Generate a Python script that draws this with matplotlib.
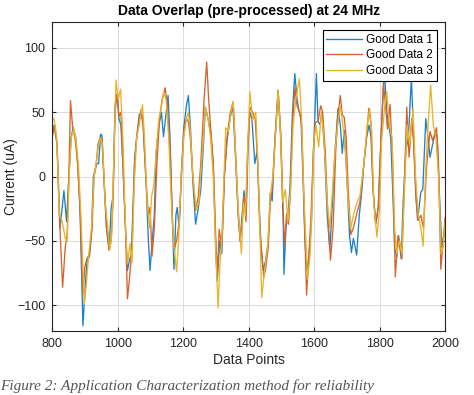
import matplotlib
matplotlib.use('Agg')
import matplotlib.pyplot as plt

# Good Data 1
x1 = [800, 806, 815, 824, 836, 844, 850, 858, 864, 872, 878, 885, 894, 900, 906, 914, 920, 926,
      936, 942, 948, 952, 958, 966, 974, 980, 986, 992, 996, 1000, 1004, 1010, 1016, 1024, 1030,
      1036, 1042, 1052, 1058, 1066, 1072, 1078, 1086, 1094, 1099, 1104, 1112, 1118, 1126, 1134,
      1140, 1146, 1154, 1160, 1166, 1172, 1178, 1182, 1188, 1194, 1202, 1210, 1216, 1222, 1230,
      1238, 1246, 1254, 1262, 1268, 1276, 1284, 1292, 1300, 1304, 1312, 1318, 1326, 1334, 1344,
      1352, 1360, 1368, 1374, 1380, 1386, 1392, 1398, 1404, 1410, 1419, 1426, 1432, 1438, 1445,
      1452, 1460, 1466, 1472, 1480, 1490, 1498, 1506, 1508, 1514, 1520, 1526, 1534, 1541, 1548,
      1554, 1560, 1566, 1572, 1578, 1585, 1592, 1598, 1602, 1607, 1612, 1618, 1624, 1632, 1640,
      1648, 1656, 1664, 1673, 1680, 1686, 1692, 1700, 1708, 1714, 1720, 1730, 1738, 1746, 1752,
      1760, 1768, 1774, 1780, 1788, 1796, 1804, 1814, 1822, 1828, 1834, 1840, 1846, 1852, 1858,
      1866, 1872, 1880, 1888, 1897, 1904, 1910, 1916, 1926, 1932, 1941, 1948, 1954, 1962, 1970,
      1976, 1982, 1990, 2000]
y1 = [33, 40, 25, -40, -11, -35, -5, 30, 38, 30, 10, -25, -116, -90, -66, -62, -45, 0,
      10, 10, 33, 32, 0, -40, -57, -25, -15, 55, 64, 60, 45, 40, 10, -40, -73,
      -65, -60, 15, 30, 48, 50, 40, 0, -50, -73, -55, -30, 20, 40, 50,
      31, 45, 63, 30, -20, -72, -30, -24, -40, 0, 38, 55, 63, 40, -5,
      -37, -25, -10, 25, 54, 45, 35, 10, -60, -81, -50, -60, 0, 28, 46,
      55, 15, -30, -50, -30, -11, -30, 28, 50, 45, 10, 20, -20, -55, -73,
      -65, -50, -13, -19, 28, 67, 30, -40, -76, -40, -30, -10, 50, 80, 60,
      51, 45, 0, -50, -73, -60, -35, 20, 45, 80, 43, 40, 50, 20, -30,
      -57, -20, 20, 53, 40, 18, 36, 0, -45, -59, -48, -61, -30, -10, 10,
      30, 40, 30, -10, -37, -24, 28, 84, 50, 40, 30, -10, -55, -63, -46,
      -64, -20, 20, 30, 77, 30, -10, -34, -12, -10, 45, 30, 15, 25, 35,
      30, -10, -55, -40]

# Good Data 2
x2 = [800, 808, 815, 822, 832, 840, 846, 852, 856, 862, 870, 878, 886, 894, 900, 906, 914, 922,
      928, 934, 940, 946, 952, 960, 966, 974, 980, 986, 992, 998, 1004, 1010, 1016, 1024, 1030,
      1036, 1044, 1052, 1058, 1066, 1072, 1078, 1086, 1094, 1099, 1105, 1112, 1120, 1128, 1136,
      1145, 1152, 1160, 1168, 1174, 1180, 1188, 1194, 1202, 1210, 1216, 1222, 1230, 1238, 1246,
      1254, 1264, 1272, 1278, 1284, 1292, 1300, 1305, 1310, 1318, 1326, 1334, 1344, 1353, 1360,
      1368, 1374, 1380, 1386, 1392, 1398, 1404, 1412, 1420, 1428, 1434, 1446, 1452, 1460, 1466,
      1472, 1480, 1490, 1498, 1506, 1510, 1516, 1522, 1528, 1534, 1541, 1548, 1556, 1562, 1568,
      1577, 1584, 1590, 1598, 1604, 1612, 1620, 1626, 1634, 1642, 1650, 1658, 1666, 1672, 1680,
      1686, 1692, 1698, 1704, 1712, 1720, 1730, 1740, 1752, 1760, 1767, 1774, 1780, 1788, 1796,
      1804, 1812, 1820, 1824, 1832, 1840, 1848, 1856, 1862, 1868, 1874, 1883, 1890, 1898, 1904,
      1912, 1918, 1926, 1934, 1944, 1954, 1962, 1974, 1980, 1987, 1994, 2000]
y2 = [30, 40, 25, -30, -86, -55, -45, 10, 59, 40, 30, 10, -30, -91, -70, -64, -60, -40,
      0, 8, 25, 30, 30, -10, -40, -57, -50, -20, 50, 63, 47, 50, 10, -40, -95,
      -80, -55, 10, 30, 45, 52, 40, 0, -30, -24, -62, -40, 10, 45, 60,
      69, 55, 20, -40, -55, -50, -35, -5, 35, 45, 43, 30, 0, -26, -16,
      10, 60, 89, 60, 38, 10, -50, -76, -41, -55, 0, 30, 50, 58, 20,
      -25, -50, -35, -15, -35, 20, 54, 50, 45, 10, -40, -78, -72, -55, -20,
      -10, 25, 67, 35, -30, -54, -29, -37, -10, 40, 69, 55, 50, 40, -10,
      -92, -60, -34, 20, 42, 43, 55, 50, 20, -30, -65, -40, 20, 45, 63,
      48, 46, 30, -10, -45, -40, -29, -20, 10, 30, 53, 40, -10, -37, -24,
      28, 72, 50, 37, 56, 10, -78, -46, -52, -64, -20, 54, 15, 45, 25,
      -20, -34, -30, -40, 10, 35, 28, 38, 10, -72, -50, -32]

# Good Data 3
x3 = [800, 806, 814, 822, 830, 840, 846, 852, 858, 866, 872, 880, 888, 898, 904, 912, 920, 928,
      934, 942, 948, 954, 962, 970, 976, 982, 990, 995, 1002, 1009, 1016, 1024, 1030, 1038, 1044,
      1050, 1058, 1066, 1076, 1082, 1090, 1098, 1104, 1110, 1118, 1126, 1134, 1140, 1148, 1156,
      1164, 1172, 1180, 1186, 1194, 1202, 1210, 1216, 1222, 1230, 1240, 1248, 1256, 1262, 1268,
      1276, 1284, 1292, 1300, 1307, 1312, 1318, 1326, 1330, 1338, 1346, 1353, 1360, 1368, 1378,
      1384, 1390, 1398, 1404, 1412, 1422, 1430, 1440, 1448, 1458, 1466, 1474, 1482, 1490, 1498,
      1504, 1512, 1520, 1528, 1536, 1544, 1555, 1562, 1568, 1580, 1588, 1594, 1600, 1606, 1614,
      1622, 1630, 1640, 1648, 1656, 1664, 1672, 1680, 1688, 1696, 1704, 1712, 1720, 1730, 1740,
      1752, 1762, 1770, 1776, 1782, 1792, 1800, 1806, 1816, 1822, 1830, 1838, 1846, 1852, 1860,
      1868, 1876, 1884, 1892, 1902, 1910, 1918, 1926, 1933, 1940, 1948, 1956, 1964, 1972, 1980,
      1988, 1994, 2000]
y3 = [45, 45, 30, -30, -34, -48, -50, 0, 30, 37, 30, 10, -30, -99, -85, -60, -40, 0,
      10, 25, 30, 25, -20, -40, -57, -45, 30, 75, 60, 68, 30, -40, -68, -52, -67,
      -10, 30, 40, 56, 30, -20, -40, -15, -8, 20, 45, 55, 65, 60, 30,
      -20, -55, -74, -50, 0, 30, 45, 50, 35, 0, -26, -20, 10, 30, 54,
      45, 30, 0, -60, -102, -70, -50, 10, 38, 35, 50, 58, 20, -25, -60,
      -20, -30, 30, 66, 44, 50, 0, -94, -75, -55, -15, 0, 30, 67, 30,
      -20, -10, -35, -10, 40, 60, 76, 45, -10, -80, -60, -20, 30, 40, 23,
      50, 30, -20, -40, -11, 20, 40, 55, 40, 20, -20, -40, -30, -21, -15,
      10, 40, 53, 35, -20, -47, -24, 28, 55, 66, 40, 30, -40, -60, -50,
      -60, -10, 40, 25, 53, 0, -30, -40, -54, 0, 40, 71, 40, 30, 0,
      -60, -55, -36]

labels = ['Good Data 1', 'Good Data 2', 'Good Data 3']
colors = ['#1f82c8', '#d9622b', '#e9b428']

plt.rcParams['font.family'] = ['Liberation Sans', 'DejaVu Sans']

fig = plt.figure(figsize=(4.74, 3.95), dpi=100)
ax = fig.add_axes([0.110, 0.162, 0.829, 0.782])

for xs, ys, lab, col in zip([x1, x2, x3], [y1, y2, y3], labels, colors):
    ax.plot(xs, ys, color=col, linewidth=0.95, label=lab, solid_joinstyle='round')

ax.set_xlim(800, 2000)
ax.set_ylim(-120, 120)
ax.set_xticks([800, 1000, 1200, 1400, 1600, 1800, 2000])
ax.set_yticks([-100, -50, 0, 50, 100])
ax.grid(True, color='#d6d6d6', linewidth=0.6)
ax.set_axisbelow(True)
ax.tick_params(direction='in', length=3, top=True, right=True, labelsize=9,
               colors='#262626', pad=5)
for sp in ax.spines.values():
    sp.set_color('#262626')
    sp.set_linewidth(0.8)

ax.set_title('Data Overlap (pre-processed) at 24 MHz', fontsize=10, fontweight='bold',
             color='black', pad=5)
ax.set_xlabel('Data Points', fontsize=10, color='#262626', labelpad=2)
ax.set_ylabel('Current (uA)', fontsize=10, color='#262626', labelpad=-1)

leg = ax.legend(loc='upper right', fontsize=8.5, fancybox=False, framealpha=1,
                edgecolor='black', handlelength=3.0, borderaxespad=0.7,
                borderpad=0.3, labelspacing=0.3, handletextpad=0.4)
leg.get_frame().set_linewidth(0.8)

# caption below the chart (cut off in the source image)
fig.text(0.0, 0.004, 'Figure 2: Application Characterization method for reliability',
         fontsize=11, style='italic', family='Liberation Serif', color='#555555',
         ha='left', va='bottom')

fig.savefig('out.png', dpi=100)
